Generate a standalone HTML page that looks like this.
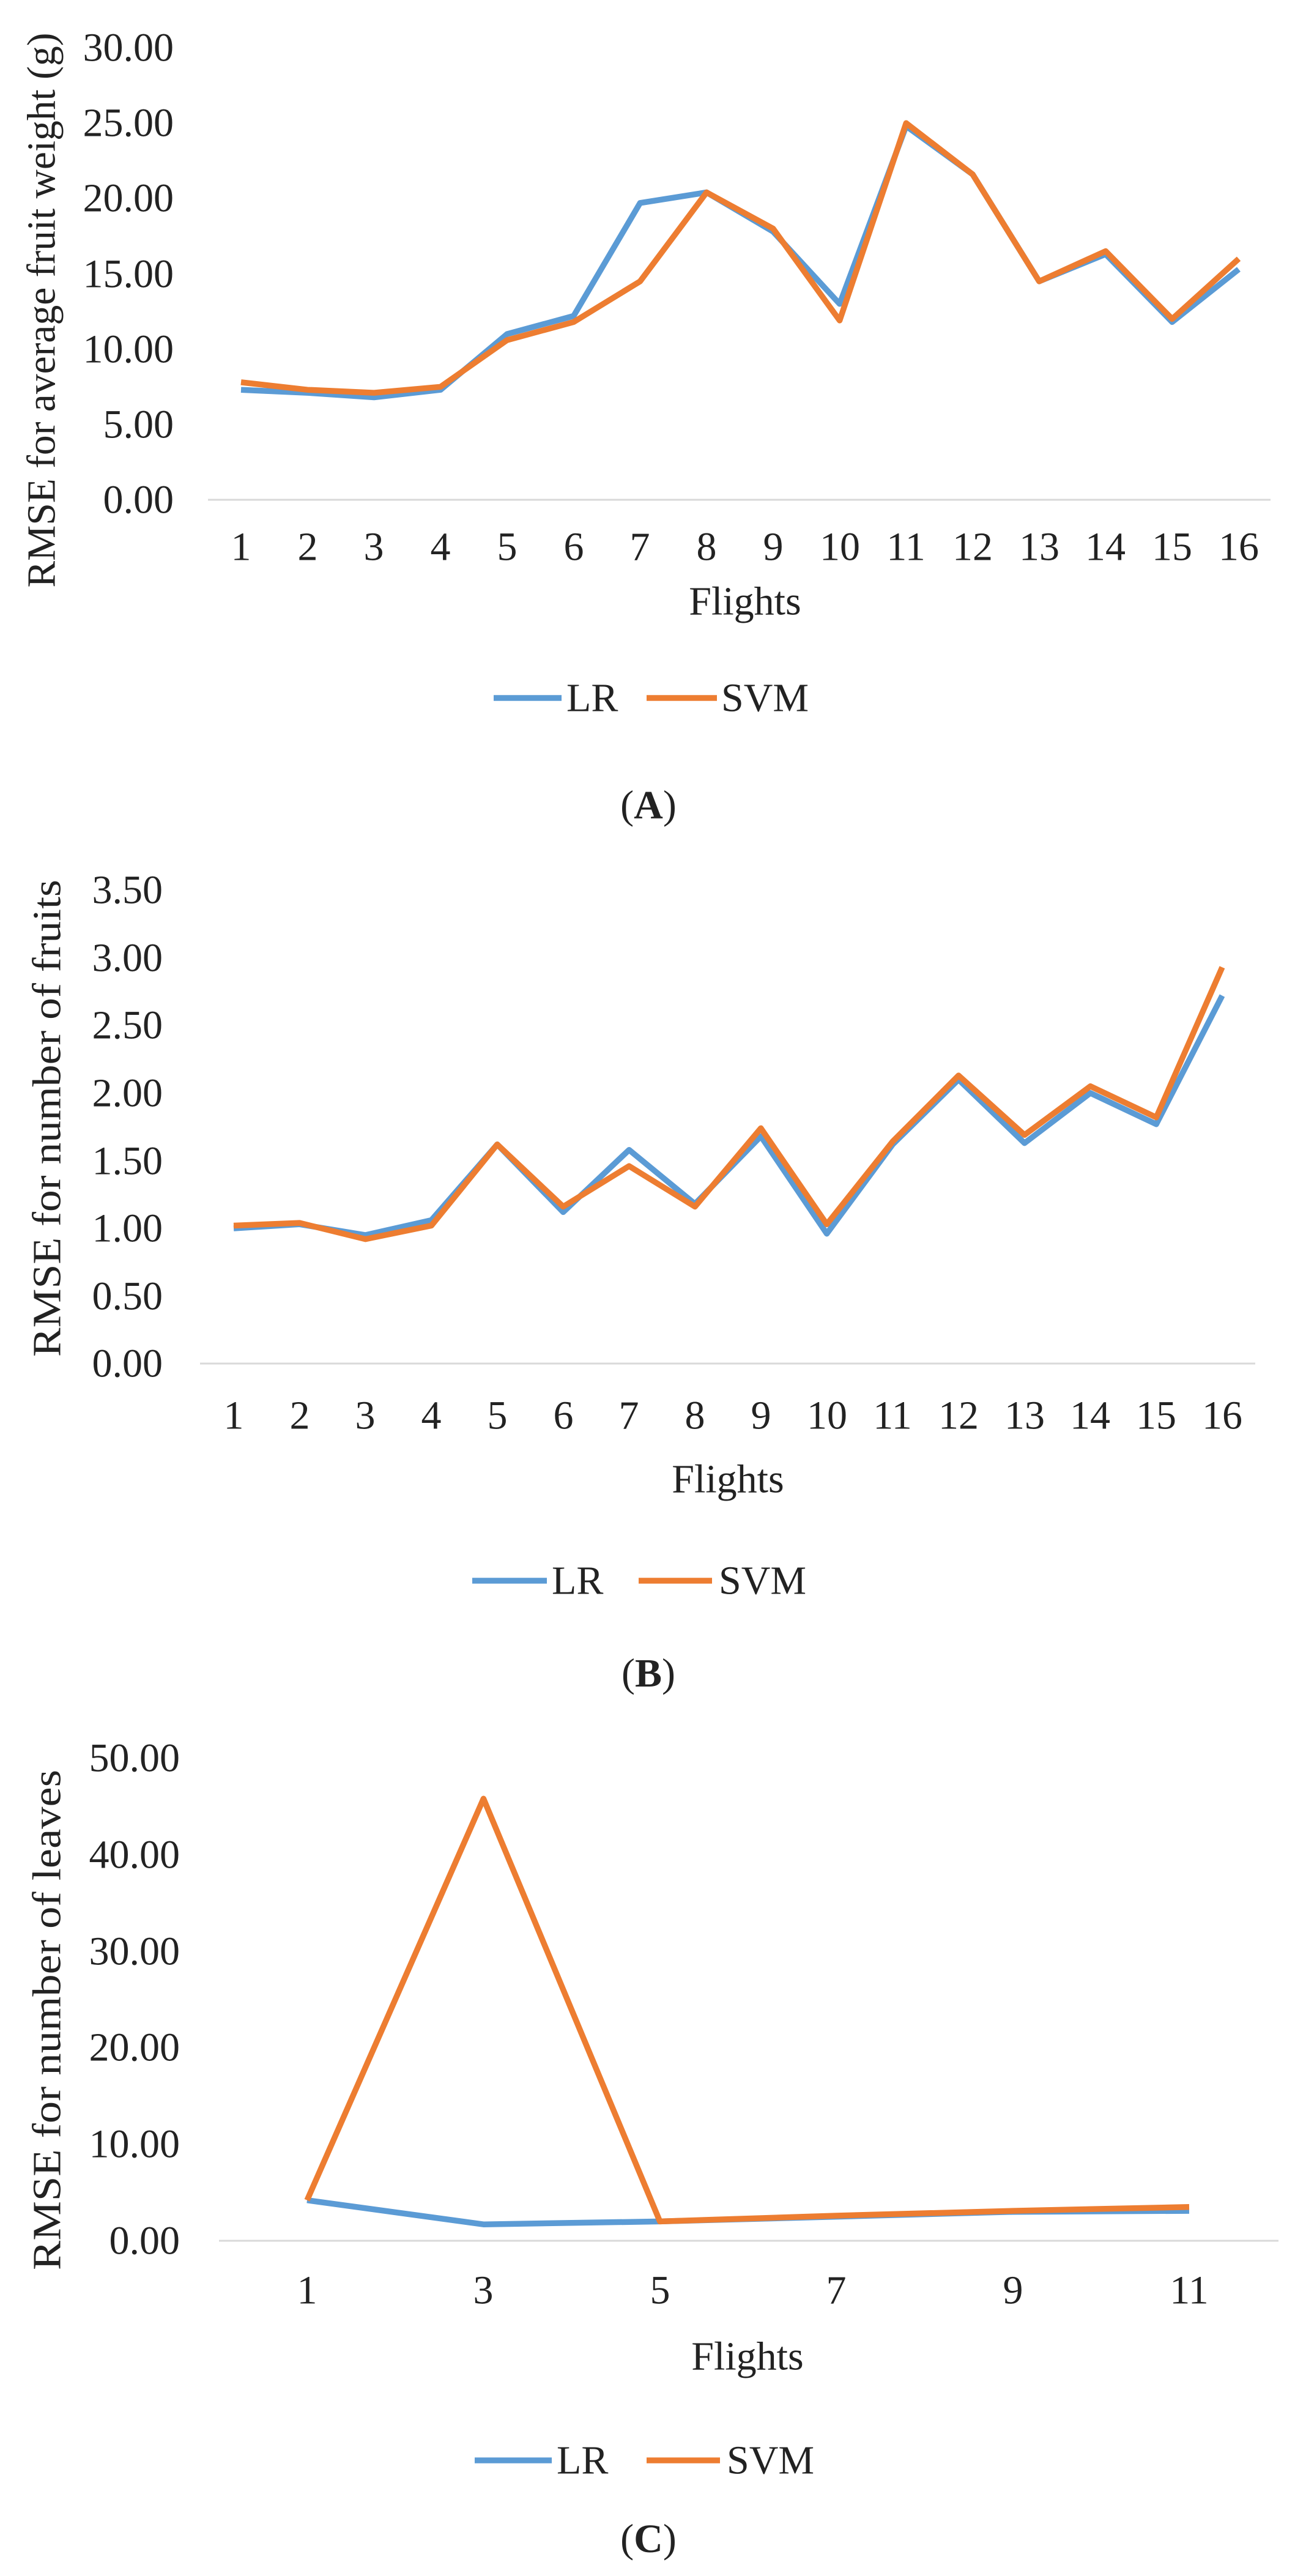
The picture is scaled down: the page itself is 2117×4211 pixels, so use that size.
<!DOCTYPE html>
<html><head><meta charset="utf-8"><style>
html,body{margin:0;padding:0;background:#fff;}
svg{display:block;}
text{font-family:"Liberation Serif",serif;fill:#222;}
</style></head><body>
<svg width="2117" height="4211" viewBox="0 0 2117 4211" xmlns="http://www.w3.org/2000/svg">
<g font-size="66">
<!-- Chart A -->
<line x1="340" y1="817" x2="2077" y2="817" stroke="#D9D9D9" stroke-width="3"/>
<g text-anchor="end" dominant-baseline="central">
<text x="284" y="78">30.00</text><text x="284" y="201">25.00</text><text x="284" y="324">20.00</text>
<text x="284" y="448">15.00</text><text x="284" y="571">10.00</text><text x="284" y="694">5.00</text><text x="284" y="817">0.00</text>
</g>
<g text-anchor="middle" dominant-baseline="central">
<text x="394" y="894">1</text><text x="503" y="894">2</text><text x="611" y="894">3</text><text x="720" y="894">4</text>
<text x="829" y="894">5</text><text x="938" y="894">6</text><text x="1046" y="894">7</text><text x="1155" y="894">8</text>
<text x="1264" y="894">9</text><text x="1373" y="894">10</text><text x="1481" y="894">11</text><text x="1590" y="894">12</text>
<text x="1699" y="894">13</text><text x="1807" y="894">14</text><text x="1916" y="894">15</text><text x="2025" y="894">16</text>
<text x="1218" y="983">Flights</text>
</g>
<text transform="translate(68,507) rotate(-90)" text-anchor="middle" dominant-baseline="central" textLength="907" lengthAdjust="spacingAndGlyphs">RMSE for average fruit weight (g)</text>
<polyline fill="none" stroke="#5B9BD5" stroke-width="9.5" stroke-linejoin="round" points="394,637.2 502.7,642.1 611.5,649.5 720.2,637.2 828.9,546.1 937.7,516.5 1046.4,331.8 1155.1,314.5 1263.8,378.6 1372.6,496.8 1481.3,206.2 1590,285 1698.8,459.9 1807.5,415.5 1916.2,526.4 2025,440.2"/>
<polyline fill="none" stroke="#ED7D31" stroke-width="9.5" stroke-linejoin="round" points="394,624.9 502.7,637.2 611.5,642.1 720.2,632.3 828.9,556 937.7,526.4 1046.4,459.9 1155.1,314.5 1263.8,373.7 1372.6,523.9 1481.3,201.3 1590,285 1698.8,459.9 1807.5,410.6 1916.2,521.4 2025,423"/>
<line x1="807" y1="1141" x2="918" y2="1141" stroke="#5B9BD5" stroke-width="9.5"/>
<text x="926" y="1141" dominant-baseline="central">LR</text>
<line x1="1057" y1="1141" x2="1172" y2="1141" stroke="#ED7D31" stroke-width="9.5"/>
<text x="1179" y="1141" dominant-baseline="central">SVM</text>
<text x="1060" y="1316" text-anchor="middle" dominant-baseline="central">(<tspan font-weight="bold">A</tspan>)</text>

<!-- Chart B -->
<line x1="327" y1="2229" x2="2052" y2="2229" stroke="#D9D9D9" stroke-width="3"/>
<g text-anchor="end" dominant-baseline="central">
<text x="266" y="1455">3.50</text><text x="266" y="1566">3.00</text><text x="266" y="1676">2.50</text>
<text x="266" y="1787">2.00</text><text x="266" y="1898">1.50</text><text x="266" y="2008">1.00</text>
<text x="266" y="2119">0.50</text><text x="266" y="2229">0.00</text>
</g>
<g text-anchor="middle" dominant-baseline="central">
<text x="382" y="2314">1</text><text x="490" y="2314">2</text><text x="597" y="2314">3</text><text x="705" y="2314">4</text>
<text x="813" y="2314">5</text><text x="921" y="2314">6</text><text x="1028" y="2314">7</text><text x="1136" y="2314">8</text>
<text x="1244" y="2314">9</text><text x="1352" y="2314">10</text><text x="1459" y="2314">11</text><text x="1567" y="2314">12</text>
<text x="1675" y="2314">13</text><text x="1782" y="2314">14</text><text x="1890" y="2314">15</text><text x="1998" y="2314">16</text>
<text x="1190" y="2418">Flights</text>
</g>
<text transform="translate(77,1828) rotate(-90)" text-anchor="middle" dominant-baseline="central" textLength="780" lengthAdjust="spacingAndGlyphs">RMSE for number of fruits</text>
<polyline fill="none" stroke="#5B9BD5" stroke-width="9.5" stroke-linejoin="round" points="382,2008 489.7,2001.3 597.5,2019 705.2,1994.6 812.9,1870.8 920.7,1981.4 1028.4,1879.7 1136.1,1968.1 1243.8,1857.5 1351.6,2016.7 1459.3,1870.8 1567,1764.7 1674.8,1868.6 1782.5,1786.8 1890.2,1837.7 1998,1627.6"/>
<polyline fill="none" stroke="#ED7D31" stroke-width="9.5" stroke-linejoin="round" points="382,2003.5 489.7,1999.1 597.5,2025.6 705.2,2003.5 812.9,1870.8 920.7,1972.5 1028.4,1906.2 1136.1,1972.5 1243.8,1844.3 1351.6,2001.3 1459.3,1866 1567,1758.1 1674.8,1855.3 1782.5,1775.7 1890.2,1826.6 1998,1581.2"/>
<line x1="772" y1="2584" x2="894" y2="2584" stroke="#5B9BD5" stroke-width="9.5"/>
<text x="902" y="2584" dominant-baseline="central">LR</text>
<line x1="1044" y1="2584" x2="1164" y2="2584" stroke="#ED7D31" stroke-width="9.5"/>
<text x="1175" y="2584" dominant-baseline="central">SVM</text>
<text x="1060" y="2735" text-anchor="middle" dominant-baseline="central">(<tspan font-weight="bold">B</tspan>)</text>

<!-- Chart C -->
<line x1="358" y1="3663" x2="2090" y2="3663" stroke="#D9D9D9" stroke-width="3"/>
<g text-anchor="end" dominant-baseline="central">
<text x="294" y="2874">50.00</text><text x="294" y="3032">40.00</text><text x="294" y="3190">30.00</text>
<text x="294" y="3347">20.00</text><text x="294" y="3505">10.00</text><text x="294" y="3663">0.00</text>
</g>
<g text-anchor="middle" dominant-baseline="central">
<text x="502" y="3744">1</text><text x="790" y="3744">3</text><text x="1079" y="3744">5</text>
<text x="1367" y="3744">7</text><text x="1656" y="3744">9</text><text x="1944" y="3744">11</text>
<text x="1222" y="3852">Flights</text>
</g>
<text transform="translate(77,3302) rotate(-90)" text-anchor="middle" dominant-baseline="central" textLength="818" lengthAdjust="spacingAndGlyphs">RMSE for number of leaves</text>
<polyline fill="none" stroke="#5B9BD5" stroke-width="9.5" stroke-linejoin="round" points="502,3596.7 790.4,3636.2 1078.8,3631.4 1367.2,3623.6 1655.6,3615.7 1944,3614.1"/>
<polyline fill="none" stroke="#ED7D31" stroke-width="9.5" stroke-linejoin="round" points="502,3596.7 790.4,2940.3 1078.8,3631.4 1367.2,3622 1655.6,3614.1 1944,3607.8"/>
<line x1="776" y1="4022" x2="902" y2="4022" stroke="#5B9BD5" stroke-width="9.5"/>
<text x="910" y="4022" dominant-baseline="central">LR</text>
<line x1="1057" y1="4022" x2="1177" y2="4022" stroke="#ED7D31" stroke-width="9.5"/>
<text x="1188" y="4022" dominant-baseline="central">SVM</text>
<text x="1060" y="4150" text-anchor="middle" dominant-baseline="central">(<tspan font-weight="bold">C</tspan>)</text>
</g>
</svg>
</body></html>
